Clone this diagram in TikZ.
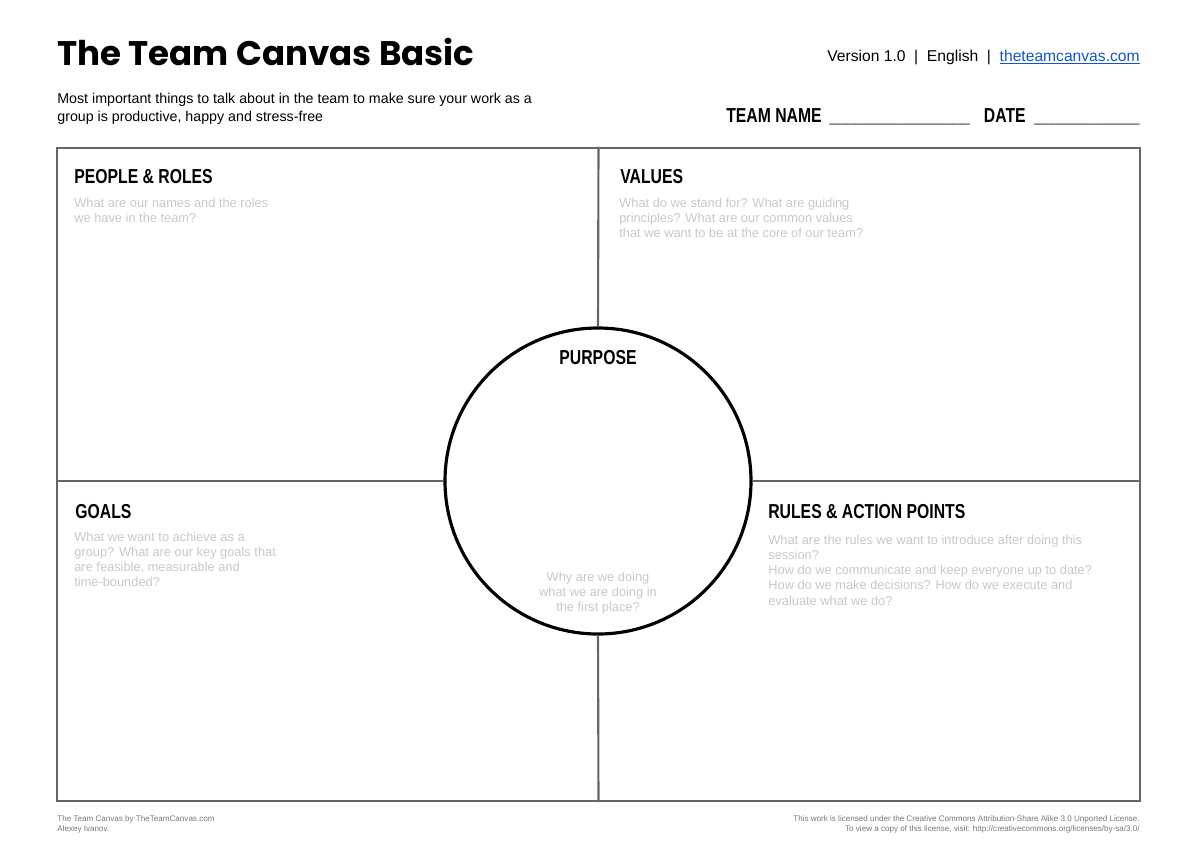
\documentclass[tikz,border=0pt]{standalone}
\usepackage{fontspec}
\setmainfont{Liberation Sans}
\newfontfamily\titlefont{Poppins}
\newfontfamily\headfont{Liberation Sans}[FakeStretch=0.78]
\usetikzlibrary{positioning}
\definecolor{canvasgrey}{RGB}{102,102,102}
\definecolor{hintgrey}{RGB}{200,200,200}
\definecolor{footgrey}{RGB}{120,120,120}
\definecolor{linkblue}{RGB}{17,85,204}

\begin{document}
\begin{tikzpicture}[x=0.02cm, y=-0.02cm,
    head/.style={anchor=base west, inner sep=0, font=\headfont\bfseries\fontsize{11.5}{13}\selectfont},
    hint/.style={anchor=north west, inner sep=0, align=left, text=hintgrey,
                 font=\fontsize{7.3}{8.6}\selectfont},
    foot/.style={inner sep=0, text=footgrey, font=\fontsize{4.6}{5.7}\selectfont},
    frame/.style={draw=canvasgrey, line width=1.2pt}
]
\useasboundingbox (0,0) rectangle (1200,849);

% header
\node[anchor=base west, inner sep=0, font=\titlefont\bfseries\fontsize{19.4}{24}\selectfont] (title) at (57,65) {The Team Canvas Basic};
\node[anchor=north west, inner sep=0, align=left, font=\fontsize{8.1}{10.2}\selectfont] (intro) at (57,93)
  {Most important things to talk about in the team to make sure your work as a\\group is productive, happy and stress-free};
\node[anchor=base east, inner sep=0, font=\fontsize{8.9}{10}\selectfont] (version) at (1140,61)
  {Version 1.0 \ | \ English \ | \ \textcolor{linkblue}{\underline{theteamcanvas.com}}};
\node[head, anchor=base east] (team) at (1140,122)
  {TEAM NAME\hspace{4.5pt}\_\_\_\_\_\_\_\_\_\_\_\_\_\_\_\_\hspace{8pt}DATE\hspace{5pt}\_\_\_\_\_\_\_\_\_\_\_\_};

% canvas
\node[frame, rectangle, minimum width=1083*0.02cm, minimum height=653*0.02cm, inner sep=0] (canvas) at (598.5,474.5) {};
\node[draw, circle, line width=1.8pt, minimum size=306*0.02cm, inner sep=0] (purpose) at (598,481) {};
\draw[frame] (canvas.north) -- (purpose.north);
\draw[frame] (purpose.south) -- (canvas.south);
\draw[frame] (purpose.west -| canvas.west) -- (purpose.west);
\draw[frame] (purpose.east) -- (purpose.east -| canvas.east);

% blocks
\node[head] (people) at (74,183) {PEOPLE \& ROLES};
\node[hint] (peoplehint) at (74,198) {What are our names and the roles\\we have in the team?};

\node[head] (values) at (620,183) {VALUES};
\node[hint] (valueshint) at (619,198) {What do we stand for? What are guiding\\principles? What are our common values\\that we want to be at the core of our team?};

\node[head] (goals) at (75,518) {GOALS};
\node[hint] (goalshint) at (74,532) {What we want to achieve as a\\group? What are our key goals that\\are feasible, measurable and\\time-bounded?};

\node[head] (rules) at (768,518) {RULES \& ACTION POINTS};
\node[hint] (ruleshint) at (768,535) {What are the rules we want to introduce after doing this\\session?\\How do we communicate and keep everyone up to date?\\How do we make decisions? How do we execute and\\evaluate what we do?};

\node[head, anchor=base] (purposetitle) at (598,364) {PURPOSE};
\node[hint, anchor=north, align=center] (purposehint) at (598,572) {Why are we doing\\what we are doing in\\the first place?};

% footer
\node[foot, anchor=north west, align=left] (footleft) at (57,815) {The Team Canvas by TheTeamCanvas.com\\Alexey Ivanov.};
\node[foot, anchor=north east, align=right] (footright) at (1140,815) {This work is licensed under the Creative Commons Attribution-Share Alike 3.0 Unported License.\\To view a copy of this license, visit: http://creativecommons.org/licenses/by-sa/3.0/};
\end{tikzpicture}
\end{document}
